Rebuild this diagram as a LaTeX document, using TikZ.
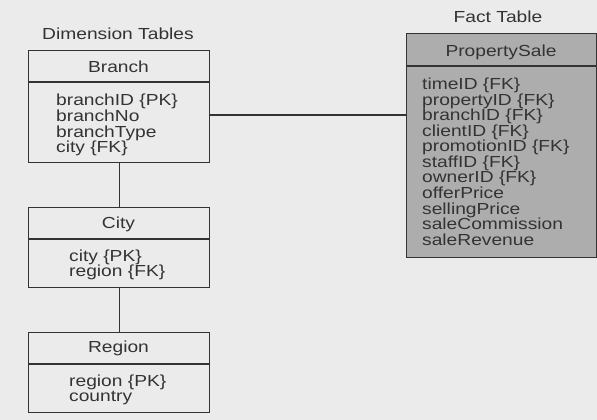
\documentclass[tikz,border=0pt]{standalone}
\usepackage{fontspec}
\setmainfont{Liberation Sans}[FakeStretch=1.2]
\begin{document}
\begin{tikzpicture}[x=1pt,y=1pt,
  txt/.style={text=black!80, font=\fontsize{16}{16}\selectfont, inner sep=0pt},
  attr/.style={txt, anchor=base west},
  boxline/.style={draw=black!80, line width=1.3pt},
  tablebox/.style={boxline, anchor=north west, inner sep=0pt, minimum width=181pt},
  facttable/.style={boxline, anchor=north west, inner sep=0pt, fill=black!32},
  link/.style={draw=black!80, line width=1.3pt}]
\useasboundingbox[fill=black!8] (0,0) rectangle (597,-420);

% headings
\node[txt] (dimhead) at (118,-34) {Dimension Tables};
\node[txt] (facthead) at (498,-17) {Fact Table};

% Branch
\node[tablebox, minimum height=112pt] (branch) at (28,-50) {};
\node[txt] (branchT) at (118.5,-67) {Branch};
\draw[boxline] ([yshift=-32pt]branch.north west) -- ([yshift=-32pt]branch.north east);
\foreach \t [count=\i] in {branchID \{PK\}, branchNo, branchType, city \{FK\}}
  \node[attr] (ba\i) at (56,-106-15.5*\i+15.5) {\t};

% City
\node[tablebox, minimum height=80pt] (city) at (28,-207) {};
\node[txt] (cityT) at (118.5,-224) {City};
\draw[boxline] ([yshift=-32pt]city.north west) -- ([yshift=-32pt]city.north east);
\foreach \t [count=\i] in {city \{PK\}, region \{FK\}}
  \node[attr] (ca\i) at (69,-261-15.8*\i+15.8) {\t};

% Region
\node[tablebox, minimum height=80pt] (region) at (28,-332) {};
\node[txt] (regionT) at (118.5,-348) {Region};
\draw[boxline] ([yshift=-32pt]region.north west) -- ([yshift=-32pt]region.north east);
\foreach \t [count=\i] in {region \{PK\}, country}
  \node[attr] (ra\i) at (69,-386-15.8*\i+15.8) {\t};

% Fact table
\node[facttable, minimum width=190pt, minimum height=224pt] (fact) at (406,-33) {};
\node[txt] (factT) at (501,-52) {PropertySale};
\draw[boxline] ([yshift=-33pt]fact.north west) -- ([yshift=-33pt]fact.north east);
\foreach \t [count=\i] in {timeID \{FK\}, propertyID \{FK\}, branchID \{FK\}, clientID \{FK\}, promotionID \{FK\}, staffID \{FK\}, ownerID \{FK\}, offerPrice, sellingPrice, saleCommission, saleRevenue}
  \node[attr] (fa\i) at (422,-89.5-15.57*\i+15.57) {\t};

% connectors
\draw[link] (branch.south) -- (city.north);
\draw[link] (city.south) -- (region.north);
\draw[link] (branch.east |- 0,-115) -- (fact.west |- 0,-115);
\end{tikzpicture}
\end{document}
